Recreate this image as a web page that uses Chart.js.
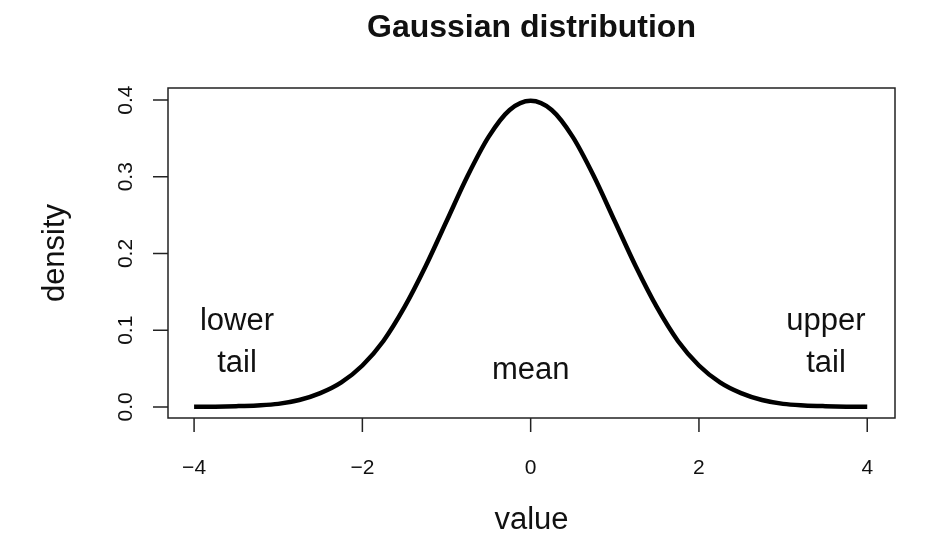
<!DOCTYPE html>
<html><head><meta charset="utf-8">
<script src="https://cdn.jsdelivr.net/npm/chart.js@4/dist/chart.umd.min.js"></script>
<style>html,body{margin:0;background:#fff}#w{width:943px;height:546px}</style>
</head><body><div id="w"><canvas id="c"></canvas></div>
<script>
const xValues = [-4,-3.75,-3.5,-3.25,-3,-2.75,-2.5,-2.25,-2,-1.75,-1.5,-1.25,-1,-0.75,-0.5,-0.25,0,0.25,0.5,0.75,1,1.25,1.5,1.75,2,2.25,2.5,2.75,3,3.25,3.5,3.75,4];
const densityValues = [0.0001,0.0004,0.001,0.002,0.004,0.009,0.018,0.032,0.054,0.086,0.130,0.183,0.242,0.301,0.352,0.387,0.399,0.387,0.352,0.301,0.242,0.183,0.130,0.086,0.054,0.032,0.018,0.009,0.004,0.002,0.001,0.0004,0.0001];
const xTicks = [-4,-2,0,2,4];
const yTicks = [0.0,0.1,0.2,0.3,0.4];
const yTickLabels = ["0.0","0.1","0.2","0.3","0.4"];
const notes = [
  {x:-3.49,y:0.112,t:"lower"},{x:-3.49,y:0.057,t:"tail"},
  {x:0,y:0.047,t:"mean"},
  {x:3.51,y:0.112,t:"upper"},{x:3.51,y:0.057,t:"tail"}
];
const F = '"Liberation Sans", Arial, sans-serif';
const deco = {
  id:'deco',
  afterDraw(ch){
    const c=ch.ctx,a=ch.chartArea,xs=ch.scales.x,ys=ch.scales.y;
    c.save();
    c.strokeStyle='#222';c.lineWidth=1.5;
    c.strokeRect(a.left,a.top,a.right-a.left,a.bottom-a.top);
    c.fillStyle='#111';
    c.beginPath();
    xTicks.forEach(v=>{const p=xs.getPixelForValue(v);c.moveTo(p,a.bottom);c.lineTo(p,a.bottom+14);});
    yTicks.forEach(v=>{const p=ys.getPixelForValue(v);c.moveTo(a.left,p);c.lineTo(a.left-15,p);});
    c.stroke();
    c.font='21px '+F;c.textAlign='center';c.textBaseline='middle';
    xTicks.forEach(v=>c.fillText((v<0?'\u2212':'')+Math.abs(v),xs.getPixelForValue(v),a.bottom+50));
    yTicks.forEach((v,i)=>{const p=ys.getPixelForValue(v);c.save();c.translate(a.left-42,p);c.rotate(-Math.PI/2);c.fillText(yTickLabels[i],0,0);c.restore();});
    c.font='bold 32px '+F;c.fillText('Gaussian distribution',(a.left+a.right)/2,28);
    c.font='31px '+F;c.fillText('value',(a.left+a.right)/2,520);
    c.save();c.translate(55,(a.top+a.bottom)/2);c.rotate(-Math.PI/2);c.fillText('density',0,0);c.restore();
    notes.forEach(n=>c.fillText(n.t,xs.getPixelForValue(n.x),ys.getPixelForValue(n.y)));
    c.restore();
  }
};
new Chart(document.getElementById('c'),{
  type:'line',
  data:{datasets:[{data:xValues.map((x,i)=>({x,y:densityValues[i]})),borderColor:'#000',borderWidth:4.5,pointRadius:0,cubicInterpolationMode:'monotone',fill:false}]},
  options:{
    responsive:true,maintainAspectRatio:false,animation:false,
    layout:{padding:{left:168,right:48,top:88,bottom:128}},
    plugins:{legend:{display:false},tooltip:{enabled:false}},
    scales:{
      x:{type:'linear',min:-4.31,max:4.33,display:false},
      y:{type:'linear',min:-0.0144,max:0.4157,display:false}
    }
  },
  plugins:[deco]
});
</script></body></html>
